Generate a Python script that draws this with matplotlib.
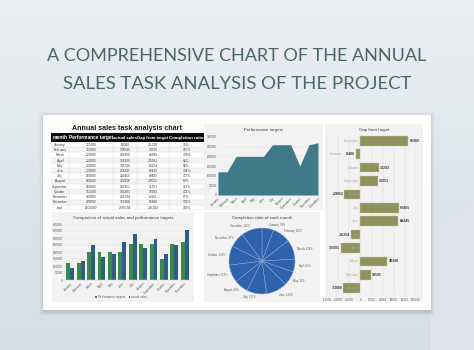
import numpy as np
import matplotlib
matplotlib.use("Agg")
import matplotlib.pyplot as plt
from matplotlib.patches import Rectangle
from matplotlib import font_manager

# ---- data -------------------------------------------------------------
months = ["January", "February", "March", "April", "May", "June", "July",
          "August", "September", "October", "November", "December"]
targets = [120000, 120000, 200000, 200000, 200000, 200000, 260000,
           260000, 260000, 150000, 260000, 270000]
actual_sales = [89000, 138595, 248390, 164909, 183746, 268445, 329465,
                230938, 291351, 183283, 251594, 356388]
table_headers = ["month", "Performance target", "actual sales",
                 "Gap from target", "Completion ratio"]
area_yticks = [0, 50000, 100000, 150000, 200000, 250000, 300000]
bar_yticks = [0, 50000, 100000, 150000, 200000, 250000, 300000, 350000, 400000]
gap_xticks = [-60000, -40000, -20000, 0, 20000, 40000, 60000, 80000, 100000]

gaps = [a - t for a, t in zip(actual_sales, targets)]
ratios = [round(100 * a / t) for a, t in zip(actual_sales, targets)]
total_target = sum(targets)
total_actual = sum(actual_sales)

# ---- fonts ------------------------------------------------------------
installed = {f.name for f in font_manager.fontManager.ttflist}
narrow = "Liberation Sans Narrow" if "Liberation Sans Narrow" in installed else "Liberation Sans"
plt.rcParams["font.family"] = [narrow, "DejaVu Sans"]

W, H = 474, 350
fig = plt.figure(figsize=(W / 100, H / 100), dpi=100)


def box(x0, y0, x1, y1):
    return [x0 / W, 1 - y1 / H, (x1 - x0) / W, (y1 - y0) / H]


renderer = fig.canvas.get_renderer()


def fit(t, width_px):
    w = t.get_window_extent(renderer).width
    t.set_fontsize(t.get_fontsize() * width_px / w)
    return t


# ---- page background, card and heading --------------------------------
bg = fig.add_axes([0, 0, 1, 1])
bg.set_xlim(0, W)
bg.set_ylim(H, 0)
bg.axis("off")
g = np.linspace(0, 1, 350)[:, None, None]
top = np.array([234, 239, 242]) / 255
bot = np.array([213, 222, 228]) / 255
bg.imshow(top + (bot - top) * g, extent=[0, W, H, 0], aspect="auto", zorder=0)
bg.fill([431, 474, 474, 431], [232, 205, 350, 350], color="#dfe5ea", zorder=0.5, lw=0)

for i, a in enumerate([0.05, 0.05, 0.04, 0.03, 0.02]):
    d = i + 1
    bg.add_patch(Rectangle((43 - d + 1, 115 - d + 2), 388 + 2 * d - 2, 195 + 2 * d - 1,
                           color="#3a4c5a", alpha=a, lw=0, zorder=1))
bg.add_patch(Rectangle((43, 115), 388, 195, color="white", lw=0, zorder=2))

tfont = dict(family=["Lato", "DejaVu Sans"], fontweight="normal", color="#4a6571")
t1 = bg.text(237, 56, "A COMPREHENSIVE CHART OF THE ANNUAL", ha="center", va="center",
             fontsize=15, zorder=3, **tfont)
t2 = bg.text(237, 84, "SALES TASK ANALYSIS OF THE PROJECT", ha="center", va="center",
             fontsize=15, zorder=3, **tfont)
fit(t1, 379)
fit(t2, 348)

tt = bg.text(127.5, 128.5, "Annual sales task analysis chart", ha="center", va="center",
             fontweight="bold", color="#1a1a1a", fontsize=7, zorder=3)
fit(tt, 110)

# ---- table ------------------------------------------------------------
tab = fig.add_axes(box(51, 133, 204, 210))
tab.set_xlim(51, 204)
tab.set_ylim(210, 133)
tab.axis("off")
cols = [51, 69, 113, 137, 169, 204]
tab.add_patch(Rectangle((51, 133), 153, 9, color="#0d0d0d", lw=0))
for j, h in enumerate(table_headers):
    t = tab.text((cols[j] + cols[j + 1]) / 2, 137.7, h, ha="center", va="center",
                 color="white", fontweight="bold", fontsize=4)
    fit(t, (cols[j + 1] - cols[j]) - (3 if j == 0 else 0.5))
    t.set_clip_path(Rectangle((cols[j], 133), cols[j + 1] - cols[j], 9,
                              transform=tab.transData))

rows = [[m, f"{t}", f"{a}", f"{g_}", f"{r}%"]
        for m, t, a, g_, r in zip(months, targets, actual_sales, gaps, ratios)]
rows.append(["total", f"{total_target}", f"{total_actual}",
             f"{total_actual - total_target}", f"{round(100 * total_actual / total_target)}%"])
rh = 68 / 13
for i, row in enumerate(rows):
    y0 = 142 + i * rh
    if i % 2 == 1:
        tab.add_patch(Rectangle((51, y0), 153, rh, color="#f4f4f4", lw=0))
    tab.plot([51, 204], [y0 + rh, y0 + rh], color="#d6d6d6", lw=0.3)
    for j, v in enumerate(row):
        tab.text((cols[j] + cols[j + 1]) / 2, y0 + rh / 2 + 0.2, v, ha="center", va="center",
                 color="#3a3a3a", fontsize=2.3)
for x in cols[1:-1]:
    tab.plot([x, x], [142, 210], color="#d6d6d6", lw=0.3)

tick_kw = dict(labelsize=2.2, length=0, pad=1, colors="#595959")


def panel(rect, title, ty):
    p = fig.add_axes(box(*rect))
    p.set_xlim(rect[0], rect[2])
    p.set_ylim(rect[3], rect[1])
    p.set_facecolor("#f2f2f2")
    p.set_xticks([])
    p.set_yticks([])
    for s in p.spines.values():
        s.set_visible(False)
    p.text((rect[0] + rect[2]) / 2, ty, title, ha="center", va="center",
           fontsize=3.2, color="#404040")
    return p


# ---- performance targets (area) ----------------------------------------
panel((204, 124, 323, 210), "Performance targets", 129.5)
ax1 = fig.add_axes(box(218, 137, 318, 195))
ax1.patch.set_alpha(0)
x = np.arange(len(months))
ax1.fill_between(x, targets, color="#3e7a89", lw=0)
ax1.set_xlim(0, 11)
ax1.set_ylim(0, 300000)
ax1.set_yticks(area_yticks)
ax1.set_yticklabels([str(v) for v in area_yticks])
ax1.set_xticks(x)
ax1.set_xticklabels(months, rotation=45, ha="right", rotation_mode="anchor")
ax1.tick_params(**tick_kw)
for s in ax1.spines.values():
    s.set_visible(False)
ax1.grid(axis="y", color="#e0e0e0", lw=0.3)
ax1.set_axisbelow(True)

# ---- gap from target (horizontal bars) ---------------------------------
panel((325, 124, 423, 302), "Gap from target", 129.5)
ax2 = fig.add_axes(box(327, 134, 416, 295))
ax2.patch.set_alpha(0)
yy = np.arange(len(months))
ax2.barh(yy, gaps, height=0.72, color="#8f925c", edgecolor="#c9caa6", lw=0.3, zorder=2)
ax2.set_xlim(-60000, 100000)
ax2.set_ylim(-0.5, 11.5)
ax2.set_xticks(gap_xticks)
ax2.set_xticklabels([str(v) for v in gap_xticks])
ax2.set_yticks([])
ax2.tick_params(axis="x", labelsize=2.0, length=0, pad=2, colors="#595959")
for s in ax2.spines.values():
    s.set_visible(False)
ax2.grid(axis="x", color="#dcdcdc", lw=0.35, zorder=0)
for yi, (m, gv) in enumerate(zip(months, gaps)):
    if gv >= 0 or gv < -12000:
        ax2.text(-2500, yi, m, ha="right", va="center", fontsize=2.3, color="#a8a8a8", zorder=3)
    else:
        # short negative bar: the month name sits left of its value label
        ax2.text(gv - 24000, yi, m, ha="right", va="center", fontsize=1.9,
                 color="#a8a8a8", zorder=3)
    if gv >= 0:
        ax2.text(gv + 2000, yi, str(gv), ha="left", va="center", fontsize=2.5,
                 fontweight="bold", color="#333333", zorder=3)
    else:
        ax2.text(gv - 1500, yi, str(gv), ha="right", va="center", fontsize=2.5,
                 fontweight="bold", color="#333333", zorder=3)

# ---- actual sales vs targets (grouped bars) ----------------------------
panel((52, 212, 194, 302), "Comparison of actual sales and performance targets", 217.5)
ax3 = fig.add_axes(box(64, 224, 191, 280))
ax3.patch.set_alpha(0)
bw = 0.38
ax3.bar(x - bw / 2, targets, width=bw, color="#3c8a47", zorder=2,
        label="Performance targets")
ax3.bar(x + bw / 2, actual_sales, width=bw, color="#2d5d88", zorder=2,
        label="actual sales")
ax3.set_xlim(-0.6, 11.6)
ax3.set_ylim(0, 400000)
ax3.set_yticks(bar_yticks)
ax3.set_yticklabels([str(v) for v in bar_yticks])
ax3.set_xticks(x)
ax3.set_xticklabels(months, rotation=45, ha="right", rotation_mode="anchor")
ax3.tick_params(**tick_kw)
for s in ax3.spines.values():
    s.set_visible(False)
ax3.spines["bottom"].set_visible(True)
ax3.spines["bottom"].set_color("#d0d0d0")
ax3.spines["bottom"].set_linewidth(0.3)
ax3.grid(axis="y", color="#e2e2e2", lw=0.3, zorder=0)
ax3.legend(loc="center", bbox_to_anchor=(0.45, -0.305), ncol=2, frameon=False,
           fontsize=2.2, handlelength=0.6, handleheight=0.6, handletextpad=0.3,
           columnspacing=1.2, labelcolor="#595959")

# ---- completion ratio (pie) --------------------------------------------
panel((204, 212, 320, 302), "Completion ratio of each month", 217.5)
ax4 = fig.add_axes(box(229, 228, 295, 294))
ax4.pie(ratios, labels=[f"{m}, {r}%" for m, r in zip(months, ratios)],
        startangle=90, counterclock=False, colors=["#2f62ad"] * 12,
        labeldistance=1.12,
        wedgeprops=dict(edgecolor="#8fa9d6", linewidth=0.3),
        textprops=dict(fontsize=1.9, color="#595959"))
ax4.set_xlim(-1, 1)
ax4.set_ylim(-1, 1)
ax4.set_aspect("equal")

fig.savefig("out.png", dpi=100)
